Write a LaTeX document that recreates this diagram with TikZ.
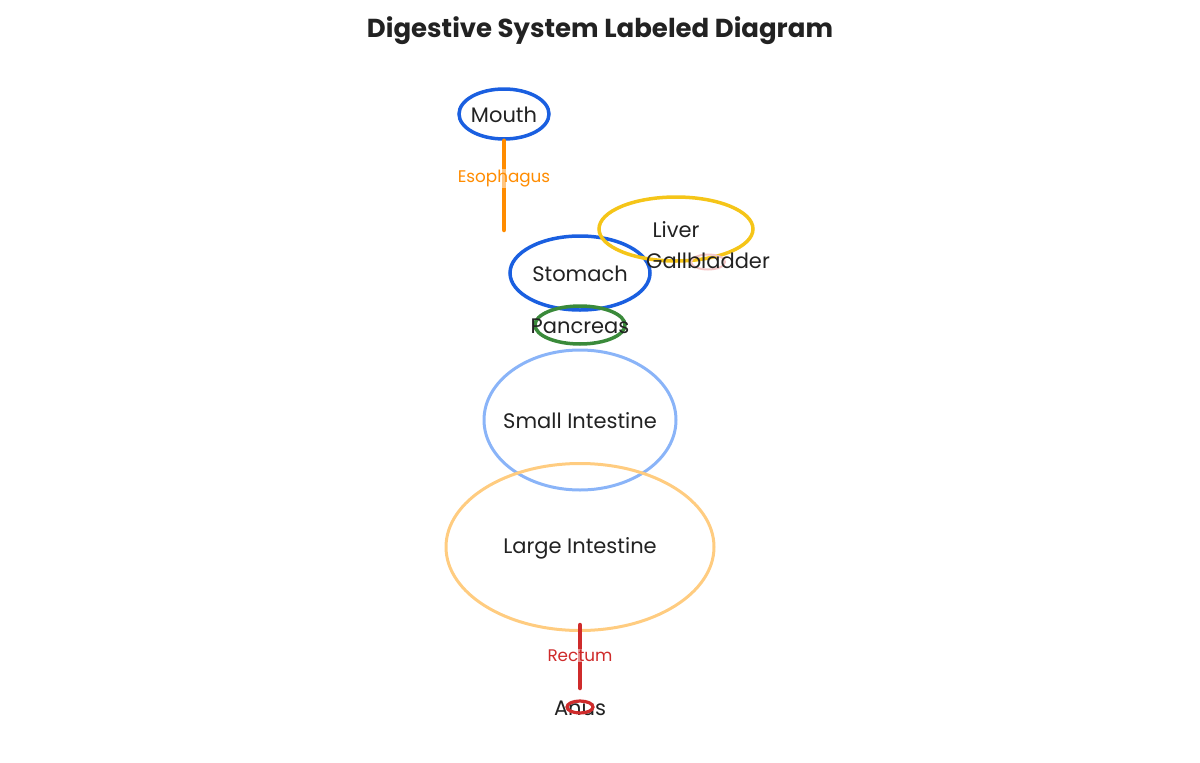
\documentclass[tikz,border=0pt]{standalone}
\usepackage{fontspec}
\setmainfont{Poppins}
\usetikzlibrary{shapes.geometric}
\definecolor{tblue}{HTML}{1A5FE0}
\definecolor{tgold}{HTML}{F5C518}
\definecolor{tgreen}{HTML}{3A8A3A}
\definecolor{tlblue}{HTML}{8AB4F8}
\definecolor{tlorange}{HTML}{FFCC80}
\definecolor{torange}{HTML}{FF8C00}
\definecolor{tred}{HTML}{CF2B2B}
\definecolor{tpink}{HTML}{F4C7C7}
\definecolor{ttext}{HTML}{222222}
\begin{document}
\begin{tikzpicture}[x=1pt,y=-1pt,
  organ/.style={draw, ellipse, inner sep=0pt, line width=3.5pt},
  lbl/.style={text=ttext, font=\fontsize{21}{24}\selectfont, inner sep=0pt, yshift=-1pt},
  tube/.style={line width=4.5pt, line cap=round},
  tubelbl/.style={font=\fontsize{16.8}{18}\selectfont, fill=white, fill opacity=0.5, text opacity=1, inner sep=1pt, yshift=-1.5pt}]
\useasboundingbox (0,0) rectangle (1200,763);
\node[font=\fontsize{26}{30}\selectfont\bfseries, text=ttext] (title) at (600,31) {Digestive System Labeled Diagram};
% ellipses
\node[organ, draw=tblue, minimum width=90pt, minimum height=50pt] (mouth) at (504,114) {};
\node[organ, draw=tblue, minimum width=140pt, minimum height=74pt] (stomach) at (580,273) {};
\node[organ, draw=tgold, minimum width=154pt, minimum height=64pt] (liver) at (676,229) {};
\node[organ, draw=tpink, line width=2pt, minimum width=34pt, minimum height=15pt] (gall) at (708,262) {};
\node[organ, draw=tgreen, minimum width=90pt, minimum height=38pt] (pancreas) at (580,325) {};
\node[organ, draw=tlblue, line width=3pt, minimum width=192pt, minimum height=140pt] (small) at (580,420) {};
\node[organ, draw=tlorange, line width=3pt, minimum width=268pt, minimum height=167pt] (large) at (580,547) {};
% tubes
\coordinate (esoEnd) at (504,230);
\coordinate (recStart) at (580,625);
\coordinate (recEnd) at (580,688);
\draw[tube, torange] (mouth.south) -- (esoEnd);
\node[tubelbl, text=torange] (esolbl) at (504,177) {Esophagus};
\draw[tube, tred] (recStart) -- (recEnd);
\node[tubelbl, text=tred] (reclbl) at (580,654) {Rectum};
% labels
\node[lbl] (mouthT) at (mouth.center) {Mouth};
\node[lbl] (liverT) at (676,229) {Liver};
\node[lbl] (gallT) at (708,260) {Gallbladder};
\node[lbl] (stomachT) at (stomach.center) {Stomach};
\node[lbl] (pancT) at (pancreas.center) {Pancreas};
\node[lbl] (smallT) at (small.center) {Small Intestine};
\node[lbl] (largeT) at (large.center) {Large Intestine};
\node[lbl] (anusT) at (580,707) {Anus};
\node[organ, draw=tred, line width=3.2pt, minimum width=26pt, minimum height=12pt] (anus) at (580,707) {};
\end{tikzpicture}
\end{document}
